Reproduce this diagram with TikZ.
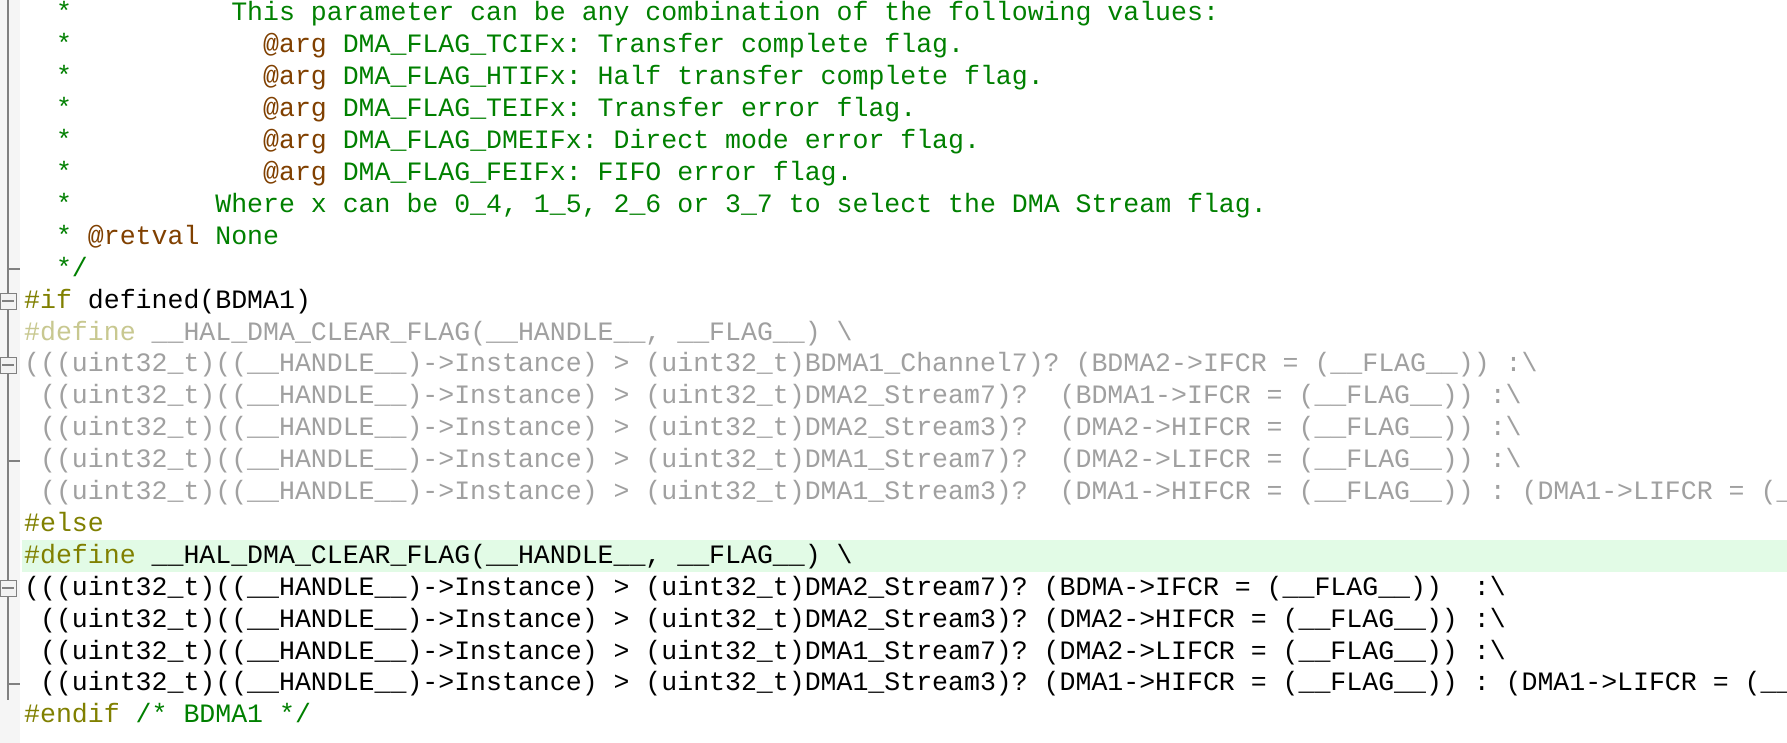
\documentclass[tikz,border=0pt]{standalone}
\usepackage{fontspec}
\setmonofont{Liberation Mono}
\definecolor{cmt}{HTML}{008000}
\definecolor{tag}{HTML}{804000}
\definecolor{kw}{HTML}{808000}
\definecolor{inact}{HTML}{A0A0A0}
\definecolor{inkw}{HTML}{C8C890}
\definecolor{hl}{HTML}{E2FBE6}
\definecolor{gut}{HTML}{808080}
\newcommand{\csp}[1]{\hspace*{#1\dimexpr15.93pt\relax}}
\tikzset{codeln/.style={anchor=base west,inner sep=0pt,font=\ttfamily\fontsize{26.55}{32}\selectfont}}
\newcommand{\codeL}[2]{\node[codeln] at (24,{21+31.9*(#1-1)}) {#2};}
\begin{document}
\begin{tikzpicture}[x=1pt,y=-1pt]
\useasboundingbox (0,0) rectangle (1787,743);
\clip (0,0) rectangle (1787,743);
\fill[white] (0,0) rectangle (1787,743);
\fill[gray!8] (0,0) rectangle (20,743);
\fill[hl] (22,540) rectangle (1787,572);
\draw[gut,line width=1.5pt] (8,0) -- (8,700);
\foreach \y/\nm in {301/fa,365/fb,588/fc}{
  \node[draw=gut,fill=gray!10,minimum width=16pt,minimum height=16pt,inner sep=0pt,line width=1pt] (\nm) at (8,\y) {};
  \draw[gut,line width=1.2pt] (2,\y) -- (14,\y);
}
\foreach \y in {269,461,684}{\draw[gut,line width=1.5pt] (8,\y) -- (20,\y);}
\codeL{1}{\csp{2}\textcolor{cmt}{*\csp{10}This parameter can be any combination of the following values:}}
\codeL{2}{\csp{2}\textcolor{cmt}{*}\csp{12}\textcolor{tag}{@arg} \textcolor{cmt}{DMA\_FLAG\_TCIFx: Transfer complete flag.}}
\codeL{3}{\csp{2}\textcolor{cmt}{*}\csp{12}\textcolor{tag}{@arg} \textcolor{cmt}{DMA\_FLAG\_HTIFx: Half transfer complete flag.}}
\codeL{4}{\csp{2}\textcolor{cmt}{*}\csp{12}\textcolor{tag}{@arg} \textcolor{cmt}{DMA\_FLAG\_TEIFx: Transfer error flag.}}
\codeL{5}{\csp{2}\textcolor{cmt}{*}\csp{12}\textcolor{tag}{@arg} \textcolor{cmt}{DMA\_FLAG\_DMEIFx: Direct mode error flag.}}
\codeL{6}{\csp{2}\textcolor{cmt}{*}\csp{12}\textcolor{tag}{@arg} \textcolor{cmt}{DMA\_FLAG\_FEIFx: FIFO error flag.}}
\codeL{7}{\csp{2}\textcolor{cmt}{*\csp{9}Where x can be 0\_4, 1\_5, 2\_6 or 3\_7 to select the DMA Stream flag.}}
\codeL{8}{\csp{2}\textcolor{cmt}{*} \textcolor{tag}{@retval} \textcolor{cmt}{None}}
\codeL{9}{\csp{2}\textcolor{cmt}{*/}}
\codeL{10}{\textcolor{kw}{\#if} defined(BDMA1)}
\codeL{11}{\textcolor{inkw}{\#define} \textcolor{inact}{\_\_HAL\_DMA\_CLEAR\_FLAG(\_\_HANDLE\_\_, \_\_FLAG\_\_) \textbackslash}}
\codeL{12}{\textcolor{inact}{(((uint32\_t)((\_\_HANDLE\_\_)->Instance) > (uint32\_t)BDMA1\_Channel7)? (BDMA2->IFCR = (\_\_FLAG\_\_)) :\textbackslash}}
\codeL{13}{\textcolor{inact}{\csp{1}((uint32\_t)((\_\_HANDLE\_\_)->Instance) > (uint32\_t)DMA2\_Stream7)?\csp{2}(BDMA1->IFCR = (\_\_FLAG\_\_)) :\textbackslash}}
\codeL{14}{\textcolor{inact}{\csp{1}((uint32\_t)((\_\_HANDLE\_\_)->Instance) > (uint32\_t)DMA2\_Stream3)?\csp{2}(DMA2->HIFCR = (\_\_FLAG\_\_)) :\textbackslash}}
\codeL{15}{\textcolor{inact}{\csp{1}((uint32\_t)((\_\_HANDLE\_\_)->Instance) > (uint32\_t)DMA1\_Stream7)?\csp{2}(DMA2->LIFCR = (\_\_FLAG\_\_)) :\textbackslash}}
\codeL{16}{\textcolor{inact}{\csp{1}((uint32\_t)((\_\_HANDLE\_\_)->Instance) > (uint32\_t)DMA1\_Stream3)?\csp{2}(DMA1->HIFCR = (\_\_FLAG\_\_)) : (DMA1->LIFCR = (\_\_FLAG\_\_)))}}
\codeL{17}{\textcolor{kw}{\#else}}
\codeL{18}{\textcolor{kw}{\#define} \_\_HAL\_DMA\_CLEAR\_FLAG(\_\_HANDLE\_\_, \_\_FLAG\_\_) \textbackslash}
\codeL{19}{(((uint32\_t)((\_\_HANDLE\_\_)->Instance) > (uint32\_t)DMA2\_Stream7)? (BDMA->IFCR = (\_\_FLAG\_\_))\csp{2}:\textbackslash}
\codeL{20}{\csp{1}((uint32\_t)((\_\_HANDLE\_\_)->Instance) > (uint32\_t)DMA2\_Stream3)? (DMA2->HIFCR = (\_\_FLAG\_\_)) :\textbackslash}
\codeL{21}{\csp{1}((uint32\_t)((\_\_HANDLE\_\_)->Instance) > (uint32\_t)DMA1\_Stream7)? (DMA2->LIFCR = (\_\_FLAG\_\_)) :\textbackslash}
\codeL{22}{\csp{1}((uint32\_t)((\_\_HANDLE\_\_)->Instance) > (uint32\_t)DMA1\_Stream3)? (DMA1->HIFCR = (\_\_FLAG\_\_)) : (DMA1->LIFCR = (\_\_FLAG\_\_)))}
\codeL{23}{\textcolor{kw}{\#endif} \textcolor{cmt}{/* BDMA1 */}}
\end{tikzpicture}
\end{document}
